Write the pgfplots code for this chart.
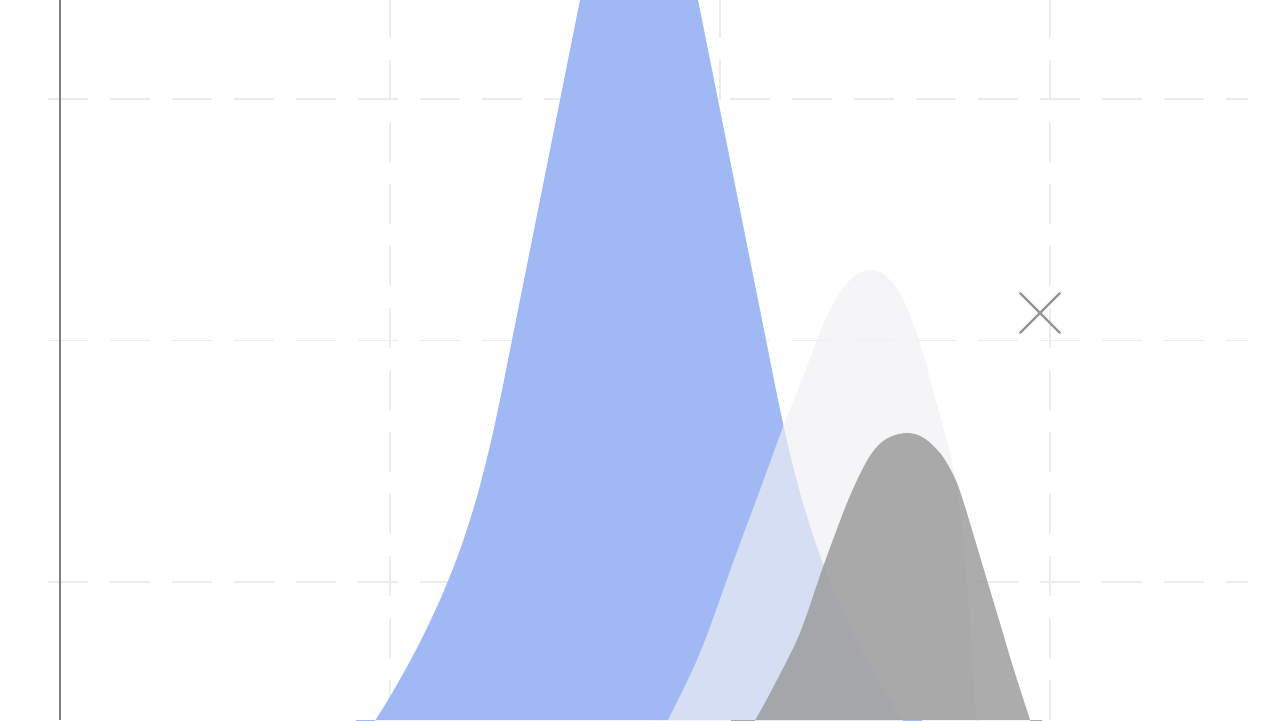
\documentclass[border=0pt]{standalone}
\usepackage{pgfplots}
\pgfplotsset{compat=1.18}
\usetikzlibrary{shapes.misc}
\definecolor{blueA}{HTML}{A0B9F4}
\definecolor{lgray}{HTML}{F0F1F4}
\definecolor{dgray}{HTML}{9D9D9D}
\definecolor{gridc}{HTML}{ECECEC}
\begin{document}
\begin{tikzpicture}
\begin{axis}[
  scale only axis, width=600pt, height=360pt,
  xmin=48, xmax=1248, ymin=100, ymax=820,
  axis line style={draw=none},
  xtick={390,720,1050}, ytick={238,479.5,721},
  xticklabels={}, yticklabels={},
  major tick length=0pt,
  grid=major,
  major grid style={draw=gridc, line width=0.9pt, dash pattern=on 20pt off 11pt},
  extra x ticks={60}, extra x tick labels={},
  extra x tick style={grid=major, major grid style={solid, draw=black!50, line width=1pt}},
]
% blue density
\addplot[fill=blueA, draw=none, smooth, tension=0.5] coordinates {
 (356,70) (388,120) (416,170) (440,220) (460,270) (476,320) (489,370) (500,420)
 (510,470) (520,520) (530,570) (540,620) (550,670) (560,720) (570,770) (580,820)
 (590,870) (600,920) (610,970) (621,1020) (631,1060) (639,1080)
 (647,1060) (657,1020) (668,970) (678,920) (688,870) (698,820) (708,770) (718,720)
 (728,670) (738,620) (748,570) (758,520) (768,470) (778,420) (789,370) (802,320)
 (818,270) (838,220) (862,170) (890,120) (922,70)
} \closedcycle;
% light gray density
\addplot[fill=lgray, fill opacity=0.68, draw=none, smooth, tension=0.5] coordinates {
 (652,70) (668,100) (683,130) (697,160) (710,193) (734,260) (760,330) (783,393)
 (800,435) (820,488) (830,510) (840,527.5) (850,540) (860,547.5) (870,550)
 (880,548) (890,540) (900,527) (910,505) (920,477) (933,430) (950,367)
 (957,330) (965,260) (971,180) (976,100) (979,60)
} \closedcycle;
% dark gray density
\addplot[fill=dgray, fill opacity=0.85, draw=none, smooth, tension=0.5] coordinates {
 (731,60) (757,103) (777,140) (800,187) (823,253) (843,307) (853,331) (861,348)
 (868,361) (875,371) (882,378) (890,383) (899,386) (908,387) (918,385)
 (928,379) (940,367) (948,355) (957,337) (966,310) (975,280) (984,250)
 (993,220) (1002,190) (1013,153) (1030,100) (1042,60)
} \closedcycle;
\node[cross out, draw=black!42, line width=1.2pt, minimum size=19pt, inner sep=0pt] at (axis cs:1040,507) {};
\coordinate (SW) at (rel axis cs:0,0);
\coordinate (NE) at (rel axis cs:1,1);
\end{axis}
\pgfresetboundingbox
\path[use as bounding box] ([xshift=-24pt]SW) rectangle ([xshift=16pt]NE);
\end{tikzpicture}
\end{document}
